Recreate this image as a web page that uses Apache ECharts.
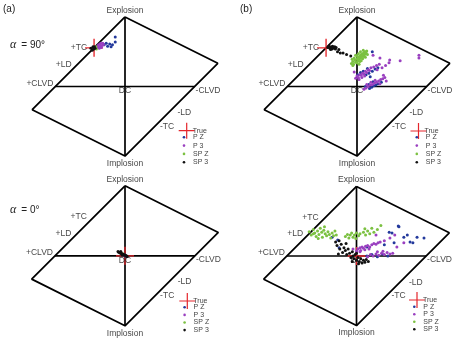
<!DOCTYPE html>
<html>
<head>
<meta charset="utf-8">
<script src="https://cdn.jsdelivr.net/npm/echarts@6/dist/echarts.min.js"></script>
<style>
html,body{margin:0;padding:0;background:#fff;}
#chart{width:474px;height:349px;}
</style>
</head>
<body>
<div id="chart"></div>
<script>
// ---- Hudson source-type plot geometry (u, v coordinates) ----
const hudsonCorners = [[0,1],[4/3,1/3],[0,-1],[-4/3,-1/3],[0,1]];
const isoAxis = [[0,1],[0,-1]];
const clvdAxis = [[-1,0],[1,0]];
const vertexLabels = ['Explosion','Implosion','+TC','+LD','+CLVD','-CLVD','DC','-LD','-TC'];
const vertexPoints = [[0,1],[0,-1],[-4/9,5/9],[-2/3,1/3],[-1,0],[1,0],[0,0],[2/3,-1/3],[4/9,-5/9]];
const seriesNames = ['True','P Z','P 3','SP Z','SP 3'];
const panelLetters = ['(a)','(b)','',''];
const angleLabels = ['90°','','0°',''];

// ---- panel (a): alpha = 90 ----
const aTrue = [[-4/9,5/9]];
const aPZ = [[-0.27,0.62],[-0.22,0.61],[-0.2,0.57],[-0.14,0.71],[-0.14,0.64],[-0.3,0.6],[-0.25,0.58],[-0.18,0.6]];
const aP3 = [[-0.40,0.57],[-0.38,0.60],[-0.36,0.58],[-0.35,0.62],[-0.33,0.59],[-0.37,0.55],[-0.39,0.58],[-0.34,0.56],[-0.31,0.6],[-0.36,0.6],[-0.32,0.62],[-0.38,0.56]];
const aSPZ = [[-0.42,0.57],[-0.41,0.54]];
const aSP3 = [[-0.49,0.55],[-0.46,0.57],[-0.45,0.54],[-0.47,0.52],[-0.43,0.55],[-0.44,0.57]];

// ---- panel (b) ----
const bTrue = [[-4/9,5/9]];
const bPZ = [[0.01,0.17],[0.05,0.2],[0.09,0.22],[0.13,0.17],[0.17,0.19],[0.19,0.14],[0.22,0.22],[0.26,0.25],[0.3,0.27],[0.15,0.26],
  [0.12,0.0],[0.17,0.03],[0.21,-0.01],[0.24,0.01],[0.27,0.02],[0.3,0.04],[0.35,0.06],[0.23,0.07],[0.18,-0.03],[0.22,0.5]];
const bP3 = [[-0.02,0.12],[0.0,0.15],[0.02,0.13],[0.04,0.17],[0.06,0.16],[0.08,0.19],[0.1,0.18],[0.12,0.22],[0.14,0.2],[0.16,0.24],
  [0.18,0.23],[0.2,0.27],[0.24,0.28],[0.28,0.3],[0.32,0.32],[0.03,0.1],[0.07,0.13],[0.11,0.15],
  [0.1,-0.04],[0.13,-0.02],[0.16,0.0],[0.19,0.02],[0.22,0.03],[0.25,0.05],[0.28,0.06],[0.31,0.08],[0.34,0.1],[0.37,0.11],
  [0.4,0.13],[0.14,0.03],[0.2,0.06],[0.26,0.09],[0.33,0.04],[0.38,0.16],[0.42,0.08],
  [0.23,0.45],[0.33,0.41],[0.47,0.38],[0.62,0.37],[0.89,0.41],[0.89,0.45],[0.29,0.24],[0.46,0.34],[-0.04,0.21],[0.36,0.27],[0.41,0.3]];
const bSPZ = [[-0.08,0.33],[-0.06,0.36],[-0.05,0.32],[-0.03,0.38],[-0.02,0.35],[0.0,0.40],[0.01,0.37],[0.02,0.42],[0.03,0.39],
  [0.04,0.44],[0.05,0.41],[0.06,0.46],[0.07,0.43],[0.08,0.47],[0.09,0.45],[0.10,0.49],[0.11,0.46],[0.12,0.5],[0.13,0.48],
  [0.14,0.51],[-0.04,0.41],[0.0,0.44],[0.04,0.36],[0.08,0.40],[-0.06,0.30],[0.02,0.47],[0.1,0.43],
  [0.0,0.34],[0.06,0.37],[0.12,0.42],[-0.02,0.45],[0.05,0.5],[0.15,0.46],[-0.07,0.39],[0.09,0.52],[0.03,0.32]];
const bSP3 = [[-0.42,0.56],[-0.40,0.58],[-0.39,0.55],[-0.37,0.57],[-0.36,0.54],[-0.35,0.58],[-0.34,0.56],[-0.33,0.55],
  [-0.32,0.57],[-0.31,0.54],[-0.38,0.53],[-0.30,0.56],[-0.28,0.50],[-0.24,0.48],[-0.2,0.48],[-0.15,0.46],[-0.09,0.44],[-0.26,0.53]];

// ---- panel (c): alpha = 0 ----
const cTrue = [[0,0]];
const cPZ = [[0.02,-0.01],[0.0,0.0],[-0.02,0.01]];
const cP3 = [[0.01,0.0],[-0.01,0.02]];
const cSPZ = [[-0.03,0.03]];
const cSP3 = [[-0.1,0.06],[-0.09,0.05],[-0.08,0.05],[-0.07,0.04],[-0.06,0.04],[-0.05,0.03],[-0.04,0.03],[-0.03,0.02],
  [-0.02,0.02],[-0.01,0.01],[0,0.01],[0.01,0],[0.02,0],[0.03,-0.01],[-0.06,0.06],[-0.04,0.01]];

// ---- panel (d) ----
const dTrue = [[0,0]];
const dPZ = [[0.61,0.42],[0.47,0.34],[0.68,0.27],[0.87,0.27],[0.97,0.26],[0.77,0.2],[0.54,0.19],[0.4,0.16],[0.15,0.13],
  [0.15,0.0],[0.22,0.02],[0.3,-0.01],[0.37,0.03],[0.45,0.0],[-0.35,0.27],[-0.27,0.23],[0.6,0.43],[0.51,0.33],[0.73,0.3],[0.81,0.19],[-0.25,0.12]];
const dP3 = [[0.02,0.1],[0.05,0.12],[0.08,0.13],[0.1,0.11],[0.13,0.14],[0.16,0.15],[0.19,0.13],[0.22,0.16],[0.25,0.18],
  [0.28,0.17],[0.31,0.19],[0.34,0.2],[0.06,0.08],[0.12,0.09],[0.18,0.1],[0.0,0.07],
  [0.2,0.02],[0.24,0.0],[0.28,0.03],[0.32,0.01],[0.36,0.04],[0.4,0.02],[0.44,0.05],[0.48,0.03],[0.52,0.04],[0.3,0.06],[0.38,0.07],[0.16,-0.01],
  [0.58,0.13],[0.68,0.19],[0.48,0.26],[0.4,0.22],[0.55,0.3],[0.28,0.3],[-0.05,0.1],[0.05,0.06]];
const dSPZ = [[-0.68,0.35],[-0.65,0.30],[-0.62,0.38],[-0.6,0.33],[-0.58,0.28],[-0.56,0.36],[-0.54,0.31],[-0.52,0.40],[-0.5,0.34],
  [-0.49,0.27],[-0.47,0.37],[-0.45,0.32],[-0.43,0.29],[-0.41,0.35],[-0.39,0.31],[-0.37,0.26],[-0.35,0.33],[-0.33,0.29],
  [-0.31,0.36],[-0.29,0.3],[-0.55,0.25],[-0.46,0.42],[-0.62,0.32],
  [-0.16,0.28],[-0.13,0.31],[-0.11,0.26],[-0.09,0.3],[-0.07,0.33],[-0.05,0.27],[-0.03,0.3],[0.0,0.33],[-0.01,0.25],[0.03,0.29],[0.05,0.32],
  [0.1,0.34],[0.13,0.3],[0.16,0.36],[0.19,0.32],[0.22,0.4],[0.25,0.34],[0.3,0.38],[0.35,0.44],[0.12,0.39]];
const dSP3 = [[-0.3,0.2],[-0.28,0.15],[-0.25,0.22],[-0.24,0.1],[-0.22,0.17],[-0.2,0.05],[-0.18,0.12],[-0.16,0.08],[-0.14,0.02],
  [-0.12,0.1],[-0.1,0.04],[-0.08,-0.02],[-0.06,0.06],[-0.04,-0.04],[-0.02,0.02],[0.0,-0.06],[0.02,-0.02],[0.04,-0.08],
  [0.06,-0.04],[0.08,-0.1],[0.1,-0.06],[0.12,-0.09],[0.14,-0.05],[0.17,-0.08],[-0.06,-0.08],[0.03,-0.11],[-0.26,0.03],
  [-0.05,0.0],[0.0,0.04],[-0.15,0.18]];

const panelData = [
  [aTrue,aPZ,aP3,aSPZ,aSP3],
  [bTrue,bPZ,bP3,bSPZ,bSP3],
  [cTrue,cPZ,cP3,cSPZ,cSP3],
  [dTrue,dPZ,dP3,dSPZ,dSP3]
];

// ---- layout / style ----
const layout = [
  {cx:125,   cy:86.5, s:69.6, cross:[186.7,130.7], dotX:186.7, dotY:137.3, step:8.3},
  {cx:357,   cy:86.5, s:69.6, cross:[418.5,131],   dotX:419.5, dotY:137.3, step:8.3},
  {cx:125,   cy:255.8,s:70,   cross:[187.3,301],   dotX:187.3, dotY:307.3, step:7.6},
  {cx:356.5, cy:256,  s:69.6, cross:[417,300],     dotX:417,   dotY:306.7, step:7.5}
];
const colors = {'True':'#e5262c','P Z':'#23399c','P 3':'#9a40c0','SP Z':'#7cc142','SP 3':'#111111'};
const crossPath = 'path://M0,9.25H20V10.75H0Z M9.25,0H10.75V20H9.25Z';
const FONT = '"Liberation Sans", Arial, sans-serif';
const labelStyle = {
  'Explosion': {position:'top', distance:2},
  'Implosion': {position:'bottom', distance:3},
  '+TC': {position:'left', distance:7},
  '+LD': {position:'left', distance:7, offset:[0,1]},
  '+CLVD': {position:'left', distance:2, offset:[0,-3]},
  '-CLVD': {position:'right', distance:1, offset:[0,4]},
  'DC': {position:'inside', offset:[0,4.5]},
  '-LD': {position:'right', distance:6, offset:[0,3]},
  '-TC': {position:'right', distance:4, offset:[0,1]}
};

const grid = [], xAxis = [], yAxis = [], series = [], legend = [], title = [];
layout.forEach((L, i) => {
  grid.push({left: L.cx - 4/3*L.s, top: L.cy - L.s, width: 8/3*L.s, height: 2*L.s});
  xAxis.push({gridIndex:i, type:'value', min:-4/3, max:4/3, show:false});
  yAxis.push({gridIndex:i, type:'value', min:-1, max:1, show:false});
  const lineBase = {type:'line', xAxisIndex:i, yAxisIndex:i, symbol:'none', silent:true, clip:false,
    lineStyle:{color:'#000', width:1.7}, z:1};
  series.push(Object.assign({}, lineBase, {name:'outline'+i, data:hudsonCorners}));
  series.push(Object.assign({}, lineBase, {name:'iso'+i, data:isoAxis}));
  series.push(Object.assign({}, lineBase, {name:'clvd'+i, data:clvdAxis}));
  series.push({
    type:'scatter', name:'labels'+i, xAxisIndex:i, yAxisIndex:i, symbolSize:0, silent:true, clip:false, z:5,
    data: vertexLabels.map((n, k) => ({
      value: vertexPoints[k], name: n,
      label: Object.assign({show:true, formatter:n, color:'#111', fontSize:8.5, fontFamily:FONT}, labelStyle[n])
    }))
  });
  seriesNames.forEach((n, k) => {
    const isTrue = n === 'True';
    series.push({
      type:'scatter', name:n, xAxisIndex:i, yAxisIndex:i, clip:false, silent:true,
      symbol: isTrue ? crossPath : 'circle',
      symbolSize: isTrue ? 18 : 3,
      itemStyle:{color:colors[n], opacity:1},
      z: isTrue ? 2 : 3,
      data: panelData[i][k]
    });
  });
  legend.push({
    data:[{name:'True', icon:crossPath}], selectedMode:false, orient:'vertical',
    left: L.cross[0]-8, top: L.cross[1]-8, itemWidth:16, itemHeight:16, padding:0,
    textStyle:{fontSize:7, color:'#444', fontFamily:FONT, padding:[0,0,0,-7]}
  });
  legend.push({
    data:['P Z','P 3','SP Z','SP 3'].map(n => ({name:n, icon:'circle'})), selectedMode:false, orient:'vertical',
    left: L.dotX-4, top: L.dotY - L.step/2, itemWidth:8, itemHeight:2.6, itemGap:0, padding:0,
    textStyle:{fontSize:7, color:'#444', fontFamily:FONT, lineHeight:L.step}
  });
});

title.push({text:panelLetters[0], left:3, top:4, padding:0, textStyle:{fontSize:10, fontWeight:'normal', color:'#222', fontFamily:FONT}});
title.push({text:panelLetters[1], left:240, top:4, padding:0, textStyle:{fontSize:10, fontWeight:'normal', color:'#222', fontFamily:FONT}});
const richAlpha = {a:{fontStyle:'italic', fontWeight:'normal', fontFamily:'"Liberation Serif", serif', fontSize:12, color:'#222'},
                   t:{fontSize:10, fontWeight:'normal', color:'#222', fontFamily:FONT}};
title.push({text:'{a|α} {t|= ' + angleLabels[0] + '}', left:10, top:36, padding:0, textStyle:{fontWeight:'normal', rich:richAlpha}});
title.push({text:'{a|α} {t|= ' + angleLabels[2] + '}', left:10, top:201, padding:0, textStyle:{fontWeight:'normal', rich:richAlpha}});

const chart = echarts.init(document.getElementById('chart'), null, {renderer:'canvas'});
chart.setOption({animation:false, backgroundColor:'#fff', grid, xAxis, yAxis, series, legend, title, tooltip:{show:false}});
</script>
</body>
</html>
